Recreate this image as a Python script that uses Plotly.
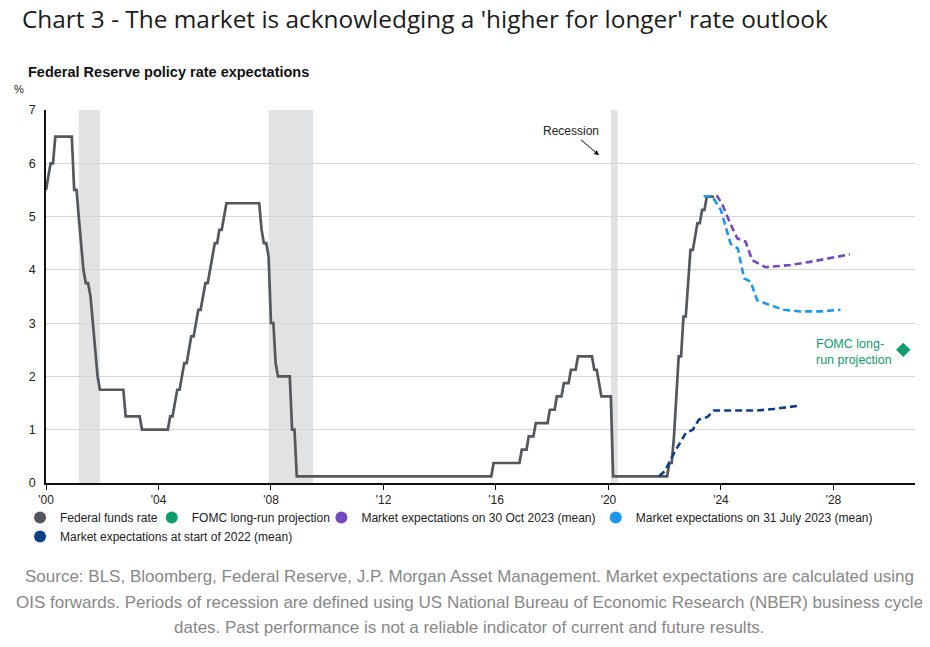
import pandas as pd
import plotly.graph_objects as go

# ---------------- data ----------------
# Federal funds rate (target / midpoint of target range), monthly from Jan 2000
fed_funds_rate = [
    5.5, 5.75, 6.0, 6.0, 6.5, 6.5, 6.5, 6.5, 6.5, 6.5, 6.5, 6.5,            # 2000
    5.5, 5.5, 5.0, 4.5, 4.0, 3.75, 3.75, 3.5, 3.0, 2.5, 2.0, 1.75,          # 2001
    1.75, 1.75, 1.75, 1.75, 1.75, 1.75, 1.75, 1.75, 1.75, 1.75, 1.25, 1.25, # 2002
    1.25, 1.25, 1.25, 1.25, 1.25, 1.0, 1.0, 1.0, 1.0, 1.0, 1.0, 1.0,        # 2003
    1.0, 1.0, 1.0, 1.0, 1.0, 1.25, 1.25, 1.5, 1.75, 1.75, 2.0, 2.25,        # 2004
    2.25, 2.5, 2.75, 2.75, 3.0, 3.25, 3.25, 3.5, 3.75, 3.75, 4.0, 4.25,     # 2005
    4.5, 4.5, 4.75, 4.75, 5.0, 5.25, 5.25, 5.25, 5.25, 5.25, 5.25, 5.25,    # 2006
    5.25, 5.25, 5.25, 5.25, 5.25, 5.25, 5.25, 5.25, 4.75, 4.5, 4.5, 4.25,   # 2007
    3.0, 3.0, 2.25, 2.0, 2.0, 2.0, 2.0, 2.0, 2.0, 1.0, 1.0, 0.125,          # 2008
    0.125, 0.125, 0.125, 0.125, 0.125, 0.125, 0.125, 0.125, 0.125, 0.125, 0.125, 0.125,  # 2009
    0.125, 0.125, 0.125, 0.125, 0.125, 0.125, 0.125, 0.125, 0.125, 0.125, 0.125, 0.125,  # 2010
    0.125, 0.125, 0.125, 0.125, 0.125, 0.125, 0.125, 0.125, 0.125, 0.125, 0.125, 0.125,  # 2011
    0.125, 0.125, 0.125, 0.125, 0.125, 0.125, 0.125, 0.125, 0.125, 0.125, 0.125, 0.125,  # 2012
    0.125, 0.125, 0.125, 0.125, 0.125, 0.125, 0.125, 0.125, 0.125, 0.125, 0.125, 0.125,  # 2013
    0.125, 0.125, 0.125, 0.125, 0.125, 0.125, 0.125, 0.125, 0.125, 0.125, 0.125, 0.125,  # 2014
    0.125, 0.125, 0.125, 0.125, 0.125, 0.125, 0.125, 0.125, 0.125, 0.125, 0.125, 0.375,  # 2015
    0.375, 0.375, 0.375, 0.375, 0.375, 0.375, 0.375, 0.375, 0.375, 0.375, 0.375, 0.625,  # 2016
    0.625, 0.625, 0.875, 0.875, 0.875, 1.125, 1.125, 1.125, 1.125, 1.125, 1.125, 1.375,  # 2017
    1.375, 1.375, 1.625, 1.625, 1.625, 1.875, 1.875, 1.875, 2.125, 2.125, 2.125, 2.375,  # 2018
    2.375, 2.375, 2.375, 2.375, 2.375, 2.375, 2.125, 2.125, 1.875, 1.625, 1.625, 1.625,  # 2019
    1.625, 1.625, 0.125, 0.125, 0.125, 0.125, 0.125, 0.125, 0.125, 0.125, 0.125, 0.125,  # 2020
    0.125, 0.125, 0.125, 0.125, 0.125, 0.125, 0.125, 0.125, 0.125, 0.125, 0.125, 0.125,  # 2021
    0.125, 0.125, 0.375, 0.375, 0.875, 1.625, 2.375, 2.375, 3.125, 3.125, 3.875, 4.375,  # 2022
    4.375, 4.625, 4.875, 4.875, 5.125, 5.125, 5.375, 5.375, 5.375, 5.375,                # 2023
]
fed_funds_dates = pd.date_range("2000-01-01", periods=len(fed_funds_rate), freq="MS")

# Market expectations on 30 Oct 2023 (mean)
oct23_dates = ["2023-11-05", "2024-01-15", "2024-05-01", "2024-07-31", "2024-11-15",
               "2025-02-10", "2025-08-01", "2026-06-20", "2027-03-01", "2028-01-01", "2028-08-01"]
oct23_values = [5.40, 5.24, 4.87, 4.59, 4.53, 4.18, 4.05, 4.09, 4.15, 4.24, 4.29]

# Market expectations on 31 July 2023 (mean)
jul23_dates = ["2023-05-20", "2023-09-10", "2024-01-01", "2024-05-05", "2024-08-08",
               "2024-10-27", "2025-01-20", "2025-04-15", "2025-08-20", "2026-03-25",
               "2026-10-30", "2027-07-15", "2028-04-01"]
jul23_values = [5.38, 5.38, 5.12, 4.49, 4.40, 3.84, 3.78, 3.43, 3.36, 3.25, 3.22, 3.22, 3.25]

# Market expectations at start of 2022 (mean)
start22_dates = ["2021-10-20", "2022-01-01", "2022-05-01", "2022-10-01", "2022-12-31",
                 "2023-03-20", "2023-07-10", "2023-10-01", "2024-05-05", "2025-04-15",
                 "2025-11-15", "2026-10-10"]
start22_values = [0.13, 0.22, 0.56, 0.94, 1.00, 1.19, 1.24, 1.36, 1.36, 1.36, 1.39, 1.45]

# FOMC long-run projection
fomc_date = ["2030-06-25"]
fomc_value = [2.5]

# NBER recessions
recession_start = ["2001-03-01", "2007-12-01", "2020-02-01"]
recession_end = ["2001-11-30", "2009-06-30", "2020-04-30"]

tick_years = ["2000-01-01", "2004-01-01", "2008-01-01", "2012-01-01",
              "2016-01-01", "2020-01-01", "2024-01-01", "2028-01-01"]
tick_labels = ["'00", "'04", "'08", "'12", "'16", "'20", "'24", "'28"]

# ---------------- styles ----------------
C_FED = "#54575b"
C_FOMC = "#0f9d6c"
C_OCT = "#7548c2"
C_JUL = "#1a98ee"
C_START = "#0b4089"
FONT = "Arial, Liberation Sans, sans-serif"

fig = go.Figure()

fig.add_trace(go.Scatter(x=fed_funds_dates, y=fed_funds_rate, mode="lines",
                         line=dict(color=C_FED, width=2.7), showlegend=False,
                         hoverinfo="skip"))
fig.add_trace(go.Scatter(x=start22_dates, y=start22_values, mode="lines",
                         line=dict(color=C_START, width=2.6, dash="7px,4px"),
                         showlegend=False))
fig.add_trace(go.Scatter(x=jul23_dates, y=jul23_values, mode="lines",
                         line=dict(color=C_JUL, width=2.6, dash="7px,4px"),
                         showlegend=False))
fig.add_trace(go.Scatter(x=oct23_dates, y=oct23_values, mode="lines",
                         line=dict(color=C_OCT, width=2.6, dash="7px,4px"),
                         showlegend=False))
fig.add_trace(go.Scatter(x=fomc_date, y=fomc_value, mode="markers",
                         marker=dict(symbol="diamond", color=C_FOMC, size=11),
                         showlegend=False))

# legend keys (circles), each entry in its own legend box so spacing matches
legend_items = [("Federal funds rate", C_FED, "legend"),
                ("FOMC long-run projection", C_FOMC, "legend2"),
                ("Market expectations on 30 Oct 2023 (mean)", C_OCT, "legend3"),
                ("Market expectations on 31 July 2023 (mean)", C_JUL, "legend4"),
                ("Market expectations at start of 2022 (mean)", C_START, "legend5")]
for name, col, lg in legend_items:
    fig.add_trace(go.Scatter(x=[None], y=[None], mode="markers", name=name, legend=lg,
                             marker=dict(symbol="circle", size=12, color=col)))

for s, e in zip(recession_start, recession_end):
    fig.add_shape(type="rect", xref="x", yref="y", x0=s, x1=e, y0=0, y1=7,
                  fillcolor="#e1e2e4", line=dict(width=0), layer="below")

# FOMC label
fig.add_annotation(x=fomc_date[0], y=fomc_value[0], xref="x", yref="y",
                   text="FOMC long-<br>run projection", showarrow=False,
                   xanchor="right", yanchor="middle", xshift=-9, yshift=-2, align="left",
                   font=dict(family=FONT, size=12.5, color=C_FOMC))
# Recession label with arrow
fig.add_annotation(x="2019-09-01", y=6.15, xref="x", yref="y", text="Recession",
                   showarrow=True, arrowhead=2, arrowsize=1, arrowwidth=1,
                   arrowcolor="#111", ax=-28, ay=-24,
                   font=dict(family=FONT, size=12, color="#222"))

# Titles & texts
fig.add_annotation(xref="paper", yref="paper", x=-0.0299, y=1.2440, xanchor="left",
                   yanchor="middle", showarrow=False,
                   text="Chart 3 - The market is acknowledging a 'higher for longer' rate outlook",
                   font=dict(family="Open Sans, sans-serif", size=24.4, color="#1b1b1b"))
fig.add_annotation(xref="paper", yref="paper", x=-0.023, y=1.1019, xanchor="left",
                   yanchor="middle", showarrow=False,
                   text="<b>Federal Reserve policy rate expectations</b>",
                   font=dict(family=FONT, size=14.5, color="#111"))
fig.add_annotation(xref="paper", yref="paper", x=-0.039, y=1.0563, xanchor="left",
                   yanchor="middle", showarrow=False, text="%",
                   font=dict(family=FONT, size=11, color="#222"))

source_lines = [
    "Source: BLS, Bloomberg, Federal Reserve, J.P. Morgan Asset Management. Market expectations are calculated using",
    "OIS forwards. Periods of recession are defined using US National Bureau of Economic Research (NBER) business cycle",
    "dates. Past performance is not a reliable indicator of current and future results.",
]
source_y = [-0.252, -0.3204, -0.3887]
for line, yy in zip(source_lines, source_y):
    fig.add_annotation(xref="paper", yref="paper", x=0.4874, y=yy,
                       xanchor="center", yanchor="middle", showarrow=False, text=line,
                       font=dict(family="Liberation Sans, Arial, sans-serif",
                                 size=17.0, color="#878787"))

legend_common = dict(orientation="h", xanchor="left", yanchor="top",
                     font=dict(family=FONT, size=12, color="#222"),
                     itemwidth=30, bgcolor="rgba(0,0,0,0)")

fig.update_layout(
    width=922, height=639,
    margin=dict(l=36, r=15, t=102, b=164),
    paper_bgcolor="white", plot_bgcolor="white",
    font=dict(family=FONT, size=12, color="#222"),
    legend=dict(x=-0.0299, y=-0.0536, **legend_common),
    legend2=dict(x=0.1217, y=-0.0536, **legend_common),
    legend3=dict(x=0.3169, y=-0.0536, **legend_common),
    legend4=dict(x=0.6326, y=-0.0536, **legend_common),
    legend5=dict(x=-0.0299, y=-0.1046, **legend_common),
    xaxis=dict(type="date", range=["2000-01-01", "2030-11-25"],
               tickvals=tick_years, ticktext=tick_labels,
               showgrid=False, showline=True, linecolor="#111", linewidth=1.5,
               ticks="outside", ticklen=5, tickcolor="#111", tickwidth=1,
               tickfont=dict(family=FONT, size=12, color="#222"), zeroline=False),
    yaxis=dict(range=[0, 7], tickvals=[0, 1, 2, 3, 4, 5, 6, 7],
               showgrid=True, gridcolor="#d6d6d6", gridwidth=1,
               showline=True, linecolor="#111", linewidth=1.5, ticks="",
               ticklabelstandoff=6,
               tickfont=dict(family=FONT, size=12.5, color="#222"), zeroline=False),
)

fig.write_html("out.html")
